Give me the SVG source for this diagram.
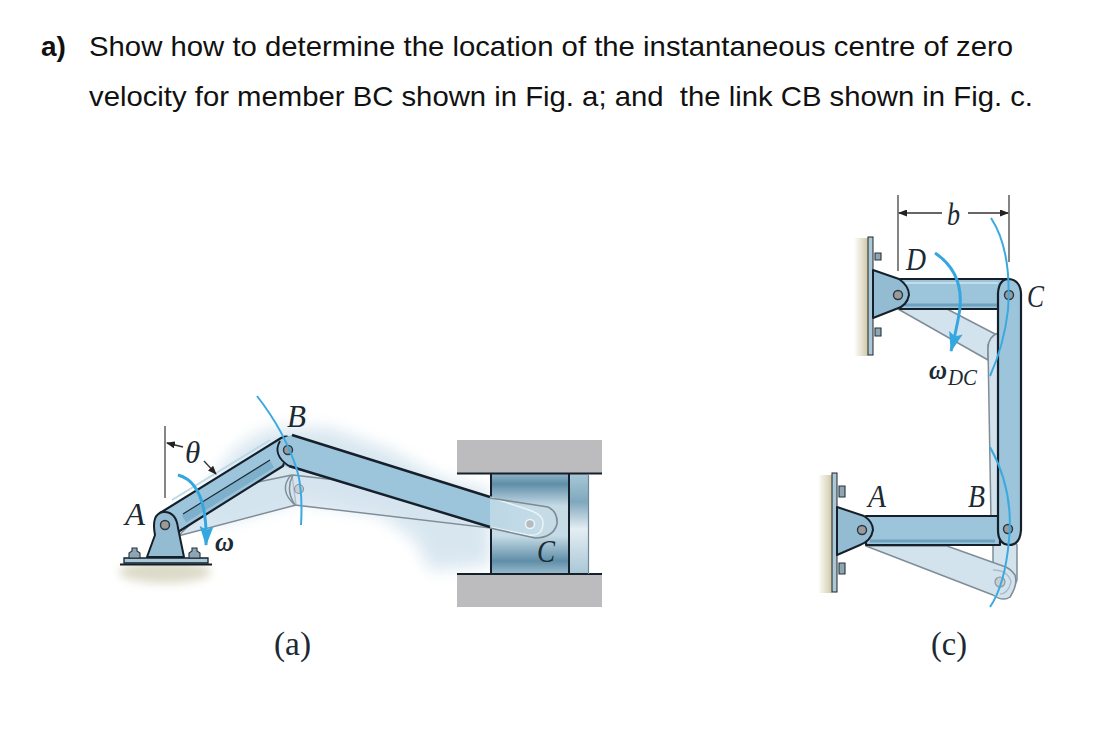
<svg xmlns="http://www.w3.org/2000/svg" width="1106" height="736" viewBox="0 0 1106 736">
<style>
.h{font-family:"Liberation Sans",Arial,sans-serif;font-size:28px;fill:#111}
.l{font-family:"Liberation Serif","Times New Roman",serif;font-style:italic;font-size:31px;fill:#1b2a33}
.p{font-family:"Liberation Serif","Times New Roman",serif;font-size:33px;fill:#1b2a33}
.w{font-family:"Liberation Serif","Times New Roman",serif;font-style:italic;font-weight:bold;font-size:27px;fill:#1b2a33}
.sub{font-family:"Liberation Serif","Times New Roman",serif;font-style:italic;font-size:24px;fill:#1b2a33}
.link{fill:#9cc4da;stroke:#15202a;stroke-width:2.2;stroke-linejoin:round}
.base{fill:#93bbd2;stroke:#15202a;stroke-width:2;stroke-linejoin:round}
.ghost{fill:#d3e3ee;stroke:#7f8d97;stroke-width:1.5;stroke-linejoin:round}
.thin{fill:none;stroke:#1b2a33;stroke-width:1.2}
.rail{fill:none;stroke:#15202a;stroke-width:2}
.sw{fill:none;stroke:#3ba9df;stroke-width:2}
.swb{fill:none;stroke:#35a7e0;stroke-width:3}
.pin{fill:#9a9a9a;stroke:#2a3640;stroke-width:1.4}
.gp{fill:#c9ced1;stroke:#8a979f;stroke-width:1.2}
.dim{fill:none;stroke:#333;stroke-width:1.3}
.bolt{fill:#8ea6b3;stroke:#25323a;stroke-width:1.1}
.plate{fill:#a9c8d9;stroke:#222;stroke-width:1}
</style>
<defs>
<filter id="bl" x="-30%" y="-30%" width="160%" height="160%"><feGaussianBlur stdDeviation="8"/></filter>
<filter id="bs" x="-30%" y="-50%" width="160%" height="200%"><feGaussianBlur stdDeviation="5"/></filter>
<linearGradient id="sl" x1="0" y1="0" x2="0" y2="1">
<stop offset="0" stop-color="#8fb3c6"/><stop offset=".1" stop-color="#5f8ea8"/><stop offset=".32" stop-color="#c5dbe6"/><stop offset=".62" stop-color="#c5dbe6"/><stop offset=".87" stop-color="#5f8ea8"/><stop offset="1" stop-color="#9abccd"/></linearGradient>
<linearGradient id="sl2" x1="0" y1="0" x2="0" y2="1">
<stop offset="0" stop-color="#a8c7d6"/><stop offset=".28" stop-color="#7fa8bd"/><stop offset=".55" stop-color="#e4eef3"/><stop offset="1" stop-color="#a9c6d5"/></linearGradient>
<linearGradient id="wall" x1="0" y1="0" x2="1" y2="0"><stop offset="0" stop-color="#fff"/><stop offset="1" stop-color="#cfc9a8"/></linearGradient>
<linearGradient id="endf" x1="0" y1="0" x2="1" y2="0"><stop offset="0" stop-color="#9cc4da"/><stop offset="1" stop-color="#c4dce8"/></linearGradient>
<marker id="ah" markerWidth="9" markerHeight="7" refX="8" refY="3.500" orient="auto" markerUnits="userSpaceOnUse"><path d="M0 0L9 3.500L0 7Z" fill="#222"/></marker>
<marker id="bh" markerWidth="20" markerHeight="16" refX="19" refY="8" orient="auto" markerUnits="userSpaceOnUse"><path d="M0 1L20 8L0 15L4 8Z" fill="#35a7e0"/></marker>
</defs>
<rect width="1106" height="736" fill="#fff"/>

<g id="question">
<text class="h" x="41" y="56" font-weight="bold">a)</text>
<text class="h" x="89" y="56" textLength="924" lengthAdjust="spacingAndGlyphs">Show how to determine the location of the instantaneous centre of zero</text>
<text class="h" x="89" y="106" textLength="944" lengthAdjust="spacingAndGlyphs" xml:space="preserve">velocity for member BC shown in Fig. a; and  the link CB shown in Fig. c.</text>
</g>

<g id="figure-a">
<g id="shading-a">
<path d="M205 490L225 462L240 445L270 428L330 428L390 450L440 478L490 490V565L430 570L415 540L380 515L300 500L215 525Z" fill="#cfe1ec" filter="url(#bl)" opacity=".8"/>
<ellipse cx="165" cy="572" rx="46" ry="11" fill="#dcdac8" filter="url(#bs)"/>
</g>
<g id="guide-block">
<rect x="457" y="440" width="145" height="33" fill="#bcbcbe"/>
<rect x="457" y="574" width="145" height="33" fill="#bcbcbe"/>
<rect x="491" y="474" width="78" height="100" fill="url(#sl)"/>
<rect x="569" y="474" width="19" height="100" fill="url(#sl2)"/>
<path class="rail" d="M457 473.500H602M457 574H602M491 474V574M569 474V574"/>
<path d="M588.500 474V574" stroke="#6f8795" stroke-width="1.200" fill="none"/>
</g>
<g id="ghost-links">
<path class="ghost" d="M178 536L296 505L292 475L258 482L200 515Z" fill-opacity=".9"/>
<path d="M293 475L490 498V528L295 505Q285 490 293 475Z" fill="#d3e3ee" fill-opacity=".6" stroke="#7f8d97" stroke-width="1.500"/>
<circle class="gp" cx="299" cy="489" r="4.500"/>
<path d="M291 475Q278 490 295 505" fill="none" stroke="#7f8d97" stroke-width="1.400"/>
</g>
<g id="link-BC">
<path d="M292 435L490 497L532 511Q544 516 543 524Q542 537 528 535L490 527L284 466Z" fill="url(#endf)"/>
<path d="M490 497L532 511Q544 516 543 524Q542 537 528 535L490 527" fill="none" stroke="#eaf4f8" stroke-width="1.500"/>
<path d="M490 498L548 507Q558 512 557 524Q553 538 535 538L490 528" fill="none" stroke="#7d8a92" stroke-width="1.600"/>
<circle cx="530" cy="524" r="4.500" fill="#b4bcc1" stroke="#eef5f8" stroke-width="1.500"/>
</g>
<g id="link-AB">
<path class="link" d="M160 513L281 438Q288 435 292 439L283 466L178 532Z"/>
<path d="M184 519L272 464" stroke="#7fb0cb" stroke-width="8" fill="none"/>
<path d="M172 500L270 440" stroke="#bcd9e8" stroke-width="2" fill="none"/>
<path class="thin" d="M183 514L270 460"/>
<path d="M292 435Q278 438 277 450Q278 462 289 466L490 527L490 497Z" fill="#9cc4da"/>
<path d="M280 441Q272 455 289 466" fill="none" stroke="#15202a" stroke-width="1.800"/>
<path d="M292 435L490 497M289 466L490 527" stroke="#15202a" stroke-width="2.400" fill="none"/>
<circle class="pin" cx="288" cy="450" r="4.500"/>
</g>
<g id="support-A">
<path class="base" d="M147 557L155 535Q151 514 163 512Q176 511 178 528L184 557Z"/>
<path d="M124 558H208V563H124Z" fill="#a9c8d9" stroke="#15202a" stroke-width="1.300"/>
<path d="M120 564.500H212" stroke="#15202a" stroke-width="2"/>
<path class="bolt" d="M132 548H137V551L140 553V558H129V553L132 551ZM192 548H197V551L200 553V558H189V553L192 551Z"/>
<circle class="pin" cx="165" cy="525" r="4.500"/>
</g>
<g id="annotations-a">
<path d="M165 426V498" stroke="#444" stroke-width="1.300" fill="none"/>
<path d="M183 447L167 443" class="dim" marker-end="url(#ah)"/>
<path d="M204 461L216 474" class="dim" marker-end="url(#ah)"/>
<path class="sw" d="M257 396Q285 432 297 470Q303 490 301 525"/>
<path class="swb" d="M178 475Q208 483 206 545" marker-end="url(#bh)"/>
<text class="l" x="185" y="463">θ</text>
<text class="l" x="125" y="525" textLength="20" lengthAdjust="spacingAndGlyphs">A</text>
<text class="l" x="287" y="427" textLength="19" lengthAdjust="spacingAndGlyphs">B</text>
<text class="l" x="537" y="562" textLength="18" lengthAdjust="spacingAndGlyphs">C</text>
<text class="w" x="215" y="551" textLength="19" lengthAdjust="spacingAndGlyphs">ω</text>
<text class="p" x="274" y="655" textLength="37" lengthAdjust="spacingAndGlyphs">(a)</text>
</g>
</g>

<g id="figure-c">
<g id="connectors-c">
<path d="M898 195V271M1009 195V262" stroke="#444" stroke-width="1.300" fill="none"/>
<path d="M942 213H899" class="dim" marker-end="url(#ah)"/>
<path d="M968 213H1008" class="dim" marker-end="url(#ah)"/>
</g>
<g id="wall-D">
<rect x="854" y="238" width="14" height="118" fill="url(#wall)"/>
<rect class="plate" x="868" y="237" width="5" height="118"/>
<path class="bolt" d="M875 253H881V260H875ZM875 328H881V336H875Z"/>
</g>
<g id="ghost-DC">
<path class="ghost" d="M898 309H947L997 335L988 345V360Z"/>
<path class="ghost" d="M988 348Q988 337 998 333V520H991Z" fill="#e0ebf2"/>
</g>
<g id="link-DC">
<path class="link" d="M900 279H1009V309H900Z"/>
<path d="M905 283H998" stroke="#cfe4ef" stroke-width="1.500"/>
<path d="M905 305H998" stroke="#6ea2bf" stroke-width="3"/>
<path class="base" d="M873 270L899 279Q909 286 909 295Q907 306 896 309L873 318Z"/>
<circle class="pin" cx="898" cy="295" r="4.500"/>
</g>
<g id="ghost-AB">
<path class="ghost" d="M993 520V592L1010 597L1017 580V545Z" fill="#e0ebf2"/>
<path class="ghost" d="M866 546L993 595Q1003 602 1010 597Q1018 585 1015 575Q1010 568 1003 566L947 546Z" fill="#d3e2ec"/>
<path d="M993 570Q1008 570 1011 582Q1008 594 1000 594" fill="none" stroke="#a9bcc8" stroke-width="1.300"/>
<circle class="gp" cx="1000" cy="582" r="5"/>
</g>
<g id="wall-A">
<rect x="818" y="475" width="14" height="118" fill="url(#wall)"/>
<rect class="plate" x="832" y="473" width="5" height="119"/>
<path class="bolt" d="M839 486H845V497H839ZM839 563H845V574H839Z"/>
</g>
<g id="link-AB-c">
<path class="link" d="M866 516H1000V545H866Z"/>
<path d="M870 541H995" stroke="#6ea2bf" stroke-width="3"/>
<path class="base" d="M837 507L864 516Q873 522 873 530Q871 541 860 545L837 555Z"/>
<circle class="pin" cx="862" cy="530" r="4.500"/>
</g>
<g id="link-CB">
<path class="link" d="M998 293Q999 279 1009 279Q1020 280 1021 293V530Q1020 545 1009 545Q998 544 998 530Z"/>
<circle class="pin" cx="1009" cy="295" r="4.500"/>
<circle class="pin" cx="1008" cy="529" r="4.500"/>
</g>
<g id="annotations-c">
<path class="sw" d="M991 218Q1012 250 1008 310Q1004 345 990 376"/>
<path class="sw" d="M990 447Q1014 490 1009 540Q1005 585 990 607"/>
<path class="swb" d="M935 253Q968 275 958 320Q955 336 951 351" marker-end="url(#bh)"/>
<text class="l" x="906" y="270" textLength="20" lengthAdjust="spacingAndGlyphs">D</text>
<text class="l" x="1027" y="307" textLength="17" lengthAdjust="spacingAndGlyphs">C</text>
<text class="l" x="868" y="507" textLength="18" lengthAdjust="spacingAndGlyphs">A</text>
<text class="l" x="968" y="507" textLength="17" lengthAdjust="spacingAndGlyphs">B</text>
<text class="l" x="947" y="225" textLength="13" lengthAdjust="spacingAndGlyphs">b</text>
<text class="w" x="929" y="379" textLength="18" lengthAdjust="spacingAndGlyphs">ω</text>
<text class="sub" x="948" y="385" textLength="29" lengthAdjust="spacingAndGlyphs">DC</text>
<text class="p" x="931" y="655" textLength="36" lengthAdjust="spacingAndGlyphs">(c)</text>
</g>
</g>
</svg>
